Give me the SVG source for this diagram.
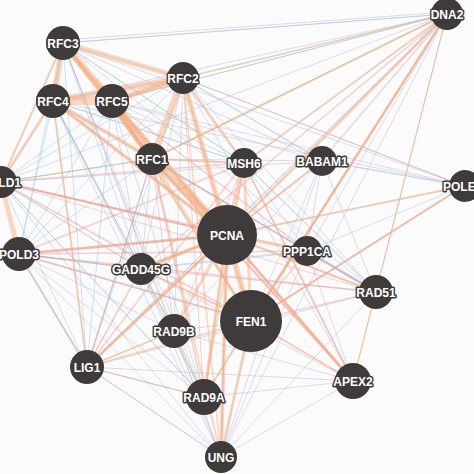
<svg xmlns="http://www.w3.org/2000/svg" width="474" height="474" viewBox="0 0 474 474">
<style>
.bg{fill:#fbfbfb}
#edges line{stroke-linecap:round;fill:none}
.o line{stroke:#f5ad80;stroke-opacity:.48}
.p line{stroke:#e8939b;stroke-opacity:.42}
.b line{stroke:#8ac0dd;stroke-opacity:.42}
.v line{stroke:#aea3d2;stroke-opacity:.38}
.g line{stroke:#a2d292;stroke-opacity:.5}
.t line{stroke:#ecbc8c;stroke-opacity:.5}
.n circle{fill:#3f3b3b}
.n text{font-family:"Liberation Sans",Arial,Helvetica,sans-serif;font-size:12px;font-weight:bold;fill:#fff;stroke:#3f3b3b;stroke-width:3;stroke-linejoin:round;paint-order:stroke;text-anchor:middle}
</style>
<rect class="bg" x="0" y="0" width="474" height="474"/>
<g id="edges">
<g class="v" stroke-width="1">
<line x1="63" y1="43" x2="447" y2="14"/>
<line x1="63" y1="40" x2="447" y2="12"/>
<line x1="53" y1="101" x2="447" y2="14"/>
<line x1="112" y1="101" x2="447" y2="14"/>
<line x1="152" y1="159" x2="447" y2="14"/>
<line x1="63" y1="43" x2="464" y2="186"/>
<line x1="183" y1="78" x2="464" y2="186"/>
<line x1="53" y1="101" x2="464" y2="186"/>
<line x1="183" y1="78" x2="322" y2="161"/>
<line x1="152" y1="159" x2="322" y2="161"/>
<line x1="112" y1="101" x2="307" y2="251"/>
<line x1="53" y1="101" x2="174" y2="331"/>
<line x1="63" y1="43" x2="221" y2="457"/>
<line x1="1" y1="182" x2="447" y2="14"/>
<line x1="1" y1="182" x2="221" y2="457"/>
<line x1="19" y1="254" x2="221" y2="457"/>
<line x1="19" y1="254" x2="204" y2="397"/>
<line x1="87" y1="367" x2="221" y2="457"/>
<line x1="87" y1="367" x2="353" y2="381"/>
<line x1="221" y1="457" x2="376" y2="292"/>
<line x1="221" y1="457" x2="353" y2="381"/>
<line x1="221" y1="457" x2="307" y2="251"/>
<line x1="221" y1="457" x2="447" y2="14"/>
<line x1="221" y1="457" x2="322" y2="161"/>
<line x1="204" y1="397" x2="447" y2="14"/>
<line x1="307" y1="251" x2="447" y2="14"/>
<line x1="376" y1="292" x2="447" y2="14"/>
<line x1="322" y1="161" x2="447" y2="14"/>
<line x1="174" y1="331" x2="447" y2="14"/>
<line x1="353" y1="381" x2="174" y2="331"/>
<line x1="376" y1="292" x2="87" y2="367"/>
<line x1="322" y1="161" x2="307" y2="251"/>
<line x1="322" y1="161" x2="376" y2="292"/>
<line x1="322" y1="161" x2="251" y2="321"/>
<line x1="244" y1="163" x2="376" y2="292"/>
<line x1="1" y1="182" x2="322" y2="161"/>
<line x1="174" y1="331" x2="221" y2="457"/>
<line x1="141" y1="269" x2="221" y2="457"/>
<line x1="141" y1="269" x2="53" y2="101"/>
<line x1="152" y1="159" x2="244" y2="163"/>
<line x1="112" y1="101" x2="464" y2="186"/>
<line x1="1" y1="182" x2="63" y2="43"/>
<line x1="204" y1="397" x2="353" y2="381"/>
<line x1="251" y1="321" x2="174" y2="331"/>
<line x1="174" y1="331" x2="63" y2="43"/>
<line x1="141" y1="269" x2="112" y2="101"/>
<line x1="141" y1="269" x2="152" y2="159"/>
<line x1="141" y1="269" x2="183" y2="78"/>
<line x1="204" y1="397" x2="53" y2="101"/>
<line x1="204" y1="397" x2="63" y2="43"/>
<line x1="322" y1="161" x2="464" y2="186"/>
<line x1="307" y1="251" x2="353" y2="381"/>
<line x1="376" y1="292" x2="63" y2="43"/>
<line x1="376" y1="292" x2="53" y2="101"/>
<line x1="87" y1="367" x2="447" y2="14"/>
<line x1="1" y1="182" x2="204" y2="397"/>
<line x1="19" y1="254" x2="174" y2="331"/>
<line x1="221" y1="457" x2="251" y2="321"/>
<line x1="221" y1="457" x2="227" y2="235"/>
<line x1="53" y1="101" x2="244" y2="163"/>
<line x1="63" y1="43" x2="322" y2="161"/>
<line x1="112" y1="101" x2="322" y2="161"/>
<line x1="183" y1="78" x2="353" y2="381"/>
</g>
<g class="b" stroke-width="1">
<line x1="1" y1="182" x2="53" y2="101"/>
<line x1="1" y1="182" x2="112" y2="101"/>
<line x1="1" y1="182" x2="152" y2="159"/>
<line x1="1" y1="182" x2="183" y2="78"/>
<line x1="19" y1="254" x2="53" y2="101"/>
<line x1="19" y1="254" x2="112" y2="101"/>
<line x1="19" y1="254" x2="152" y2="159"/>
<line x1="19" y1="254" x2="183" y2="78"/>
<line x1="19" y1="254" x2="63" y2="43"/>
<line x1="87" y1="367" x2="63" y2="43"/>
<line x1="87" y1="367" x2="53" y2="101"/>
<line x1="87" y1="367" x2="112" y2="101"/>
<line x1="87" y1="367" x2="152" y2="159"/>
<line x1="87" y1="367" x2="183" y2="78"/>
<line x1="87" y1="367" x2="1" y2="182"/>
<line x1="87" y1="367" x2="19" y2="254" stroke-width="2"/>
<line x1="53" y1="101" x2="244" y2="163"/>
<line x1="112" y1="101" x2="244" y2="163"/>
<line x1="63" y1="43" x2="244" y2="163"/>
<line x1="63" y1="43" x2="447" y2="14"/>
<line x1="183" y1="78" x2="447" y2="14"/>
<line x1="244" y1="163" x2="447" y2="14"/>
<line x1="227" y1="235" x2="447" y2="14"/>
<line x1="251" y1="321" x2="447" y2="14"/>
<line x1="307" y1="251" x2="376" y2="292" stroke-width="3"/>
<line x1="307" y1="251" x2="141" y2="269" stroke-width="2"/>
<line x1="307" y1="251" x2="464" y2="186"/>
<line x1="322" y1="161" x2="464" y2="186"/>
<line x1="251" y1="321" x2="464" y2="186"/>
<line x1="227" y1="235" x2="464" y2="186"/>
<line x1="221" y1="457" x2="87" y2="367"/>
<line x1="204" y1="397" x2="87" y2="367"/>
<line x1="183" y1="78" x2="174" y2="331"/>
<line x1="1" y1="182" x2="204" y2="397"/>
<line x1="63" y1="43" x2="141" y2="269"/>
<line x1="53" y1="101" x2="221" y2="457"/>
<line x1="112" y1="101" x2="204" y2="397"/>
<line x1="53" y1="101" x2="174" y2="331"/>
<line x1="141" y1="269" x2="1" y2="182"/>
<line x1="141" y1="269" x2="19" y2="254"/>
<line x1="174" y1="331" x2="204" y2="397"/>
<line x1="152" y1="159" x2="376" y2="292"/>
<line x1="244" y1="163" x2="376" y2="292"/>
<line x1="183" y1="78" x2="307" y2="251"/>
<line x1="152" y1="159" x2="307" y2="251"/>
<line x1="183" y1="78" x2="376" y2="292"/>
<line x1="183" y1="78" x2="322" y2="161"/>
<line x1="63" y1="43" x2="53" y2="101" stroke-width="2"/>
<line x1="63" y1="43" x2="112" y2="101"/>
<line x1="53" y1="101" x2="152" y2="159"/>
<line x1="112" y1="101" x2="152" y2="159"/>
<line x1="227" y1="235" x2="1" y2="182"/>
<line x1="227" y1="235" x2="19" y2="254"/>
<line x1="251" y1="321" x2="19" y2="254"/>
<line x1="141" y1="269" x2="251" y2="321"/>
<line x1="53" y1="101" x2="227" y2="235"/>
<line x1="112" y1="101" x2="251" y2="321"/>
<line x1="63" y1="43" x2="183" y2="78"/>
</g>
<g class="p">
<line x1="1" y1="182" x2="227" y2="235" stroke-width="2"/>
<line x1="19" y1="254" x2="227" y2="235" stroke-width="3"/>
<line x1="1" y1="182" x2="251" y2="321" stroke-width="2"/>
<line x1="19" y1="254" x2="251" y2="321" stroke-width="2"/>
<line x1="1" y1="182" x2="307" y2="251" stroke-width="1.5"/>
<line x1="19" y1="254" x2="307" y2="251" stroke-width="1.5"/>
<line x1="1" y1="182" x2="376" y2="292" stroke-width="1"/>
<line x1="19" y1="254" x2="376" y2="292" stroke-width="1.5"/>
<line x1="1" y1="182" x2="244" y2="163" stroke-width="1.5"/>
<line x1="1" y1="182" x2="152" y2="159" stroke-width="1"/>
<line x1="141" y1="269" x2="227" y2="235" stroke-width="2"/>
<line x1="87" y1="367" x2="227" y2="235" stroke-width="2"/>
<line x1="87" y1="367" x2="152" y2="159" stroke-width="1.5"/>
<line x1="87" y1="367" x2="244" y2="163" stroke-width="1.5"/>
<line x1="87" y1="367" x2="141" y2="269" stroke-width="1"/>
<line x1="87" y1="367" x2="204" y2="397" stroke-width="1"/>
<line x1="353" y1="381" x2="152" y2="159" stroke-width="2"/>
<line x1="353" y1="381" x2="244" y2="163" stroke-width="1.5"/>
<line x1="353" y1="381" x2="112" y2="101" stroke-width="1.5"/>
<line x1="376" y1="292" x2="152" y2="159" stroke-width="1.5"/>
<line x1="376" y1="292" x2="227" y2="235" stroke-width="1.5"/>
<line x1="376" y1="292" x2="251" y2="321" stroke-width="1.5"/>
<line x1="376" y1="292" x2="141" y2="269" stroke-width="1"/>
<line x1="174" y1="331" x2="152" y2="159" stroke-width="1"/>
<line x1="204" y1="397" x2="183" y2="78" stroke-width="1"/>
<line x1="204" y1="397" x2="152" y2="159" stroke-width="1.5"/>
<line x1="251" y1="321" x2="464" y2="186" stroke-width="1.5"/>
<line x1="227" y1="235" x2="322" y2="161" stroke-width="1.5"/>
<line x1="447" y1="14" x2="141" y2="269" stroke-width="1.5"/>
<line x1="447" y1="14" x2="87" y2="367" stroke-width="1"/>
<line x1="183" y1="78" x2="464" y2="186" stroke-width="1"/>
<line x1="244" y1="163" x2="174" y2="331" stroke-width="1"/>
<line x1="244" y1="163" x2="19" y2="254" stroke-width="1.5"/>
<line x1="227" y1="235" x2="204" y2="397" stroke-width="1.5"/>
<line x1="227" y1="235" x2="221" y2="457" stroke-width="1.5"/>
<line x1="53" y1="101" x2="227" y2="235" stroke-width="1.5"/>
<line x1="112" y1="101" x2="307" y2="251" stroke-width="1"/>
<line x1="112" y1="101" x2="183" y2="78" stroke-width="2.5"/>
<line x1="53" y1="101" x2="183" y2="78" stroke-width="1.5"/>
<line x1="353" y1="381" x2="141" y2="269" stroke-width="1"/>
<line x1="353" y1="381" x2="227" y2="235" stroke-width="1.5"/>
<line x1="353" y1="381" x2="251" y2="321" stroke-width="1"/>
<line x1="112" y1="101" x2="152" y2="159" stroke-width="2"/>
<line x1="63" y1="43" x2="152" y2="159" stroke-width="1.5"/>
<line x1="152" y1="159" x2="227" y2="235" stroke-width="2"/>
<line x1="141" y1="269" x2="19" y2="254" stroke-width="1.5"/>
<line x1="141" y1="269" x2="1" y2="182" stroke-width="1"/>
<line x1="447" y1="14" x2="251" y2="321" stroke-width="1.5"/>
</g>
<g class="g" stroke-width="1">
<line x1="1" y1="182" x2="152" y2="159"/>
<line x1="87" y1="367" x2="174" y2="331"/>
<line x1="63" y1="43" x2="244" y2="163"/>
<line x1="447" y1="14" x2="152" y2="159"/>
<line x1="87" y1="367" x2="227" y2="235"/>
<line x1="204" y1="397" x2="174" y2="331"/>
<line x1="141" y1="269" x2="174" y2="331"/>
<line x1="19" y1="254" x2="141" y2="269"/>
<line x1="447" y1="14" x2="112" y2="101"/>
</g>
<g class="t" stroke-width="1">
<line x1="447" y1="14" x2="353" y2="381"/>
<line x1="376" y1="292" x2="353" y2="381"/>
<line x1="87" y1="367" x2="204" y2="397"/>
<line x1="141" y1="269" x2="204" y2="397"/>
<line x1="447" y1="14" x2="204" y2="397"/>
<line x1="141" y1="269" x2="227" y2="235" stroke-width="2"/>
</g>
<g class="o">
<line x1="63" y1="43" x2="53" y2="101" stroke-width="6"/>
<line x1="63" y1="43" x2="112" y2="101" stroke-width="7"/>
<line x1="63" y1="43" x2="183" y2="78" stroke-width="5"/>
<line x1="53" y1="101" x2="112" y2="101" stroke-width="8"/>
<line x1="53" y1="101" x2="183" y2="78" stroke-width="6"/>
<line x1="112" y1="101" x2="183" y2="78" stroke-width="6"/>
<line x1="112" y1="101" x2="152" y2="159" stroke-width="8"/>
<line x1="183" y1="78" x2="152" y2="159" stroke-width="7"/>
<line x1="53" y1="101" x2="152" y2="159" stroke-width="4"/>
<line x1="63" y1="43" x2="152" y2="159" stroke-width="4"/>
<line x1="152" y1="159" x2="227" y2="235" stroke-width="7"/>
<line x1="183" y1="78" x2="227" y2="235" stroke-width="5"/>
<line x1="112" y1="101" x2="227" y2="235" stroke-width="6"/>
<line x1="53" y1="101" x2="227" y2="235" stroke-width="4"/>
<line x1="63" y1="43" x2="227" y2="235" stroke-width="3"/>
<line x1="1" y1="182" x2="19" y2="254" stroke-width="5"/>
<line x1="1" y1="182" x2="53" y2="101" stroke-width="3"/>
<line x1="1" y1="182" x2="63" y2="43" stroke-width="2"/>
<line x1="227" y1="235" x2="251" y2="321" stroke-width="6"/>
<line x1="227" y1="235" x2="221" y2="457" stroke-width="4"/>
<line x1="251" y1="321" x2="221" y2="457" stroke-width="3"/>
<line x1="227" y1="235" x2="204" y2="397" stroke-width="3"/>
<line x1="447" y1="14" x2="251" y2="321" stroke-width="3"/>
<line x1="447" y1="14" x2="227" y2="235" stroke-width="3"/>
<line x1="447" y1="14" x2="152" y2="159" stroke-width="2"/>
<line x1="447" y1="14" x2="244" y2="163" stroke-width="2"/>
<line x1="464" y1="186" x2="227" y2="235" stroke-width="2"/>
<line x1="464" y1="186" x2="251" y2="321" stroke-width="2"/>
<line x1="244" y1="163" x2="227" y2="235" stroke-width="5"/>
<line x1="244" y1="163" x2="251" y2="321" stroke-width="3"/>
<line x1="183" y1="78" x2="244" y2="163" stroke-width="3"/>
<line x1="152" y1="159" x2="244" y2="163" stroke-width="2"/>
<line x1="87" y1="367" x2="227" y2="235" stroke-width="3"/>
<line x1="87" y1="367" x2="251" y2="321" stroke-width="2"/>
<line x1="19" y1="254" x2="227" y2="235" stroke-width="2"/>
<line x1="141" y1="269" x2="227" y2="235" stroke-width="4"/>
<line x1="141" y1="269" x2="251" y2="321" stroke-width="2"/>
<line x1="174" y1="331" x2="227" y2="235" stroke-width="3"/>
<line x1="353" y1="381" x2="227" y2="235" stroke-width="3"/>
<line x1="353" y1="381" x2="251" y2="321" stroke-width="2"/>
<line x1="376" y1="292" x2="227" y2="235" stroke-width="2"/>
<line x1="307" y1="251" x2="227" y2="235" stroke-width="3"/>
<line x1="152" y1="159" x2="251" y2="321" stroke-width="3"/>
<line x1="183" y1="78" x2="251" y2="321" stroke-width="2"/>
<line x1="112" y1="101" x2="251" y2="321" stroke-width="2"/>
<line x1="152" y1="159" x2="221" y2="457" stroke-width="2"/>
<line x1="53" y1="101" x2="87" y2="367" stroke-width="2"/>
<line x1="447" y1="14" x2="353" y2="381" stroke-width="1"/>
<line x1="447" y1="14" x2="183" y2="78" stroke-width="1.5"/>
<line x1="322" y1="161" x2="227" y2="235" stroke-width="2"/>
<line x1="204" y1="397" x2="251" y2="321" stroke-width="2"/>
<line x1="87" y1="367" x2="141" y2="269" stroke-width="1.5"/>
<line x1="87" y1="367" x2="174" y2="331" stroke-width="1.5"/>
<line x1="244" y1="163" x2="204" y2="397" stroke-width="1.5"/>
<line x1="183" y1="78" x2="221" y2="457" stroke-width="1.5"/>
<line x1="307" y1="251" x2="251" y2="321" stroke-width="1.5"/>
<line x1="353" y1="381" x2="152" y2="159" stroke-width="1.5"/>
<line x1="353" y1="381" x2="244" y2="163" stroke-width="1.5"/>
<line x1="227" y1="235" x2="1" y2="182" stroke-width="1.5"/>
<line x1="19" y1="254" x2="87" y2="367" stroke-width="1.5"/>
</g>
</g>
<g id="nodes" class="n">
<g id="RFC3"><circle cx="63" cy="43" r="17"/><text x="63" y="47.5">RFC3</text></g>
<g id="RFC2"><circle cx="183" cy="78" r="16"/><text x="183" y="82.5">RFC2</text></g>
<g id="RFC4"><circle cx="53" cy="101" r="17"/><text x="53" y="105.5">RFC4</text></g>
<g id="RFC5"><circle cx="112" cy="101" r="17"/><text x="112" y="105.5">RFC5</text></g>
<g id="RFC1"><circle cx="152" cy="159" r="16"/><text x="152" y="163.5">RFC1</text></g>
<g id="MSH6"><circle cx="244" cy="163" r="15"/><text x="244" y="167.5">MSH6</text></g>
<g id="BABAM1"><circle cx="322" cy="161" r="15"/><text x="322" y="165.5">BABAM1</text></g>
<g id="DNA2"><circle cx="447" cy="14" r="16"/><text x="447" y="18.5">DNA2</text></g>
<g id="POLE"><circle cx="465" cy="186" r="16"/><text x="443" y="190.5" style="text-anchor:start">POLE</text></g>
<g id="POLD1"><circle cx="1" cy="182" r="16"/><text x="1" y="186.5">POLD1</text></g>
<g id="POLD3"><circle cx="19" cy="254" r="17"/><text x="19" y="258.5">POLD3</text></g>
<g id="GADD45G"><circle cx="141" cy="269" r="16"/><text x="141" y="273.5">GADD45G</text></g>
<g id="RAD9B"><circle cx="174" cy="331" r="17"/><text x="174" y="335.5">RAD9B</text></g>
<g id="LIG1"><circle cx="87" cy="367" r="17"/><text x="87" y="371.5">LIG1</text></g>
<g id="RAD9A"><circle cx="204" cy="397" r="18"/><text x="204" y="401.5">RAD9A</text></g>
<g id="UNG"><circle cx="221" cy="457" r="16"/><text x="221" y="461.5">UNG</text></g>
<g id="PCNA"><circle cx="227" cy="235" r="30"/><text x="227" y="239.5">PCNA</text></g>
<g id="FEN1"><circle cx="251" cy="321" r="31"/><text x="251" y="325.5">FEN1</text></g>
<g id="PPP1CA"><circle cx="307" cy="251" r="15"/><text x="307" y="255.5">PPP1CA</text></g>
<g id="RAD51"><circle cx="376" cy="292" r="17"/><text x="376" y="296.5">RAD51</text></g>
<g id="APEX2"><circle cx="353" cy="381" r="18"/><text x="353" y="385.5">APEX2</text></g>
</g>
</svg>
